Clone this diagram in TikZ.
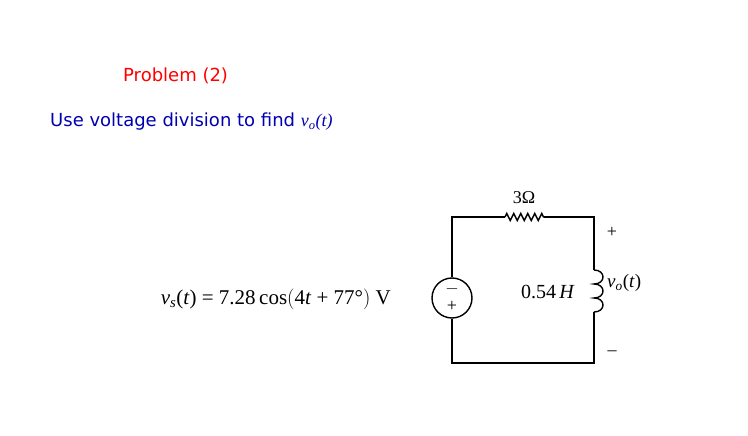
\documentclass[tikz,border=0pt]{standalone}
\usepackage{fontspec}
\setmainfont{Liberation Serif}
\newfontfamily\comic{DejaVu Sans}
\usetikzlibrary{decorations.pathmorphing}
\begin{document}
\begin{tikzpicture}[x=1pt,y=-1pt,wire/.style={line width=1.4pt},lbl/.style={inner sep=0pt}]
\useasboundingbox[fill=white] (0,0) rectangle (748,436);
\node[lbl,text=red,font=\comic\fontsize{18}{20}\selectfont,anchor=west] (p) at (123,76) {Problem (2)};
\node[lbl,text=blue!70!black,font=\comic\fontsize{18}{20}\selectfont,anchor=west] (q) at (50,122) {Use voltage division to find \textrm{\itshape v\textsubscript{o}(t)}};
\coordinate (tl) at (452,217); \coordinate (tr) at (594,217);
\coordinate (bl) at (452,363); \coordinate (br) at (594,363);
\node[circle,draw,line width=1.4pt,minimum size=40pt,inner sep=0pt] (src) at (452,298) {};
\node[lbl,font=\fontsize{18}{18}\selectfont] (sm) at (452,289) {$-$};
\node[lbl,font=\fontsize{18}{18}\selectfont] (sp) at (452,306) {+};
\coordinate (r1) at (505,217); \coordinate (r2) at (544,217);
\coordinate (l1) at (594,270); \coordinate (l2) at (594,312);
\draw[wire] (src.north) -- (tl) -- (r1);
\draw[wire,decorate,decoration={zigzag,segment length=7pt,amplitude=3.5pt}] (r1) -- (r2);
\draw[wire] (r2) -- (tr) -- (l1);
\draw[wire] (l1) .. controls (606,270) and (606,284) .. (594,284)
  .. controls (606,284) and (606,298) .. (594,298)
  .. controls (606,298) and (606,312) .. (l2);
\draw[wire] (l2) -- (br) -- (bl) -- (src.south);
\node[lbl,font=\fontsize{18}{18}\selectfont] (rv) at (524,198) {3Ω};
\node[lbl,font=\fontsize{20}{20}\selectfont,anchor=east] (lv) at (575,292) {0.54\,\textit{H}};
\node[lbl,font=\fontsize{18}{18}\selectfont] (pl) at (612,232) {+};
\node[lbl,font=\fontsize{18}{18}\selectfont] (mi) at (612,353) {–};
\node[lbl,font=\fontsize{19}{19}\selectfont,anchor=west] (vo) at (607,283) {\textit{v\textsubscript{o}}(\textit{t})};
\node[lbl,font=\fontsize{21}{21}\selectfont,anchor=east] (vs) at (391,299) {\textit{v\textsubscript{s}}(\textit{t}) = 7.28\,cos\big(4\textit{t} + 77°\big) V};
\end{tikzpicture}
\end{document}
